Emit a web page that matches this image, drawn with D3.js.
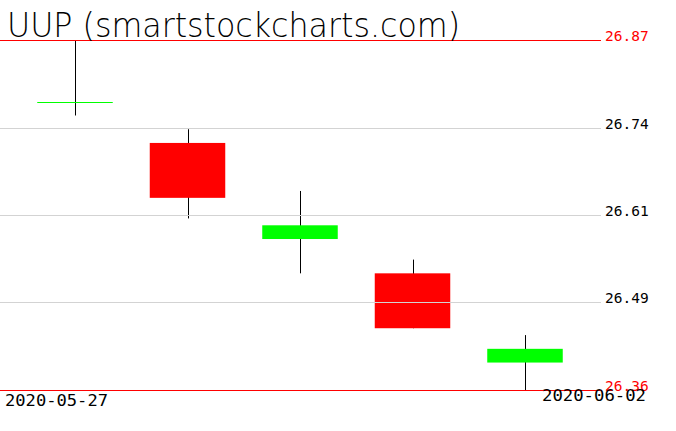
<!DOCTYPE html>
<html><head><meta charset="utf-8">
<script src="https://cdn.jsdelivr.net/npm/d3@7"></script>
<style>body{margin:0;background:#fff}svg{display:block}</style>
</head><body>
<svg id="c" width="676" height="431"></svg>
<script>
const dates = ["2020-05-27","2020-05-28","2020-05-29","2020-06-01","2020-06-02"];
const opens  = [26.78, 26.72, 26.58, 26.53, 26.40];
const highs  = [26.87, 26.74, 26.65, 26.55, 26.44];
const lows   = [26.76, 26.61, 26.53, 26.45, 26.36];
const closes = [26.78, 26.64, 26.60, 26.45, 26.42];
const tickLabels = ["26.36", "26.49", "26.61", "26.74", "26.87"];
const title = "UUP (smartstockcharts.com)";

const svg = d3.select("#c");
const yMin = d3.min(lows), yMax = d3.max(highs);
const y = d3.scaleLinear().domain([yMin, yMax]).range([390, 40]);
const x = d3.scalePoint().domain(dates).range([75, 525]);
const bw = 75.5;
const font = "DejaVu Sans Mono, monospace";

// wicks
svg.append("g").selectAll("line").data(dates).join("line")
  .attr("x1", d => Math.round(x(d)) + 0.5).attr("x2", d => Math.round(x(d)) + 0.5)
  .attr("y1", (d,i) => y(highs[i])).attr("y2", (d,i) => y(lows[i]))
  .attr("stroke", "#000").attr("stroke-width", 1);

// bodies
const g = svg.append("g");
dates.forEach((d,i) => {
  const o = opens[i], c = closes[i];
  const col = c >= o ? "#00ff00" : "#ff0000";
  if (Math.abs(c - o) < 1e-9) {
    g.append("line").attr("x1", x(d) - bw/2).attr("x2", x(d) + bw/2)
      .attr("y1", Math.round(y(o)) + 0.5).attr("y2", Math.round(y(o)) + 0.5)
      .attr("stroke", col).attr("stroke-width", 1);
  } else {
    g.append("rect").attr("x", x(d) - bw/2).attr("width", bw)
      .attr("y", y(Math.max(o,c))).attr("height", Math.abs(y(o) - y(c)))
      .attr("fill", col);
  }
});

// grid
const ticks = d3.range(5).map(k => yMin + (yMax - yMin) * k / 4);
const grid = svg.append("g");
ticks.forEach((t,k) => {
  const edge = (k === 0 || k === 4);
  const yy = Math.round(y(t)) + 0.5;
  grid.append("line").attr("x1", 0).attr("x2", 601).attr("y1", yy).attr("y2", yy)
    .attr("stroke", edge ? "#ff0000" : "#d3d3d3").attr("stroke-width", 1);
  grid.append("text").attr("x", 605).attr("y", yy)
    .attr("font-family", font).attr("font-size", 14.5)
    .attr("fill", edge ? "#ff0000" : "#000")
    .text(tickLabels[k]);
});

// date labels
svg.append("text").attr("x", 5).attr("y", 406)
  .attr("font-family", font).attr("font-size", 15)
  .attr("textLength", 103).attr("lengthAdjust", "spacingAndGlyphs")
  .text(dates[0]);
svg.append("text").attr("x", 542).attr("y", 401)
  .attr("font-family", font).attr("font-size", 15)
  .attr("textLength", 104).attr("lengthAdjust", "spacingAndGlyphs")
  .text(dates[dates.length - 1]);

// title
svg.append("text").attr("x", 7).attr("y", 37)
  .attr("font-family", "DejaVu Sans, sans-serif").attr("font-weight", 200)
  .attr("font-size", 33)
  .attr("textLength", 453).attr("lengthAdjust", "spacingAndGlyphs")
  .attr("fill", "#000")
  .text(title);
</script>
</body></html>
